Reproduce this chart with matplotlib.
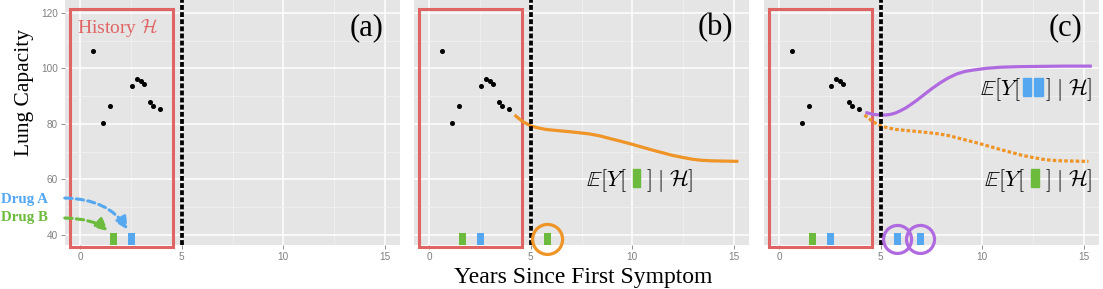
import matplotlib
matplotlib.use('Agg')
import matplotlib.pyplot as plt
from matplotlib.patches import Rectangle, Circle, FancyArrowPatch
from matplotlib.transforms import IdentityTransform

W, H = 1103, 289
plt.rcParams['mathtext.fontset'] = 'cm'

# ---------------- data ----------------
obs_t = [0.62, 1.12, 1.48, 2.54, 2.80, 2.98, 3.16, 3.43, 3.56, 3.95]
obs_y = [106.3, 80.3, 86.6, 93.5, 96.2, 95.6, 94.5, 87.8, 86.6, 85.4]
drugB_t = [1.64]          # green, past
drugA_t = [2.52]          # blue, past
hist_start, hist_end = -0.48, 4.55
now_t = 5.0
futB_t = [5.83]
futA_t = [5.83, 6.96]
curveB_t = [4.20, 4.61, 5.02, 5.40, 5.75, 6.30, 6.90, 7.40, 7.88, 8.40, 8.86, 9.40,
            9.92, 10.50, 10.98, 11.50, 11.96, 12.50, 12.94, 13.40, 13.92, 14.60, 15.23]
curveB_y = [83.2, 80.8, 79.2, 78.5, 78.0, 77.6, 77.2, 76.8, 76.4, 75.7, 74.8, 73.8,
            72.8, 71.6, 70.6, 69.6, 68.7, 67.9, 67.3, 66.9, 66.7, 66.6, 66.5]
curveA_t = [4.32, 4.65, 4.98, 5.22, 5.47, 5.72, 5.96, 6.20, 6.45, 6.78, 7.11, 7.52,
            7.93, 8.34, 8.75, 9.16, 9.57, 10.20, 10.89, 11.80, 12.86, 14.00, 15.32]
curveA_y = [84.0, 83.4, 83.2, 83.2, 83.4, 83.9, 84.7, 85.6, 86.8, 88.5, 90.4, 92.7,
            94.8, 96.6, 98.0, 98.9, 99.4, 100.0, 100.4, 100.6, 100.7, 100.8, 100.8]
xticks = [0, 5, 10, 15]
yticks = [40, 60, 80, 100, 120]
panel_labels = ['(a)', '(b)', '(c)']

BLUE = '#55A8F0'
GREEN = '#6CBB3C'
RED = '#E06464'
ORANGE = '#EF9426'
PURPLE = '#B06AE0'
BG = '#E5E5E5'
SERIF = 'Liberation Serif'

fig = plt.figure(figsize=(W / 100, H / 100), dpi=100)
lefts = [65, 414, 764]
XL = (-0.75, 15.75)
YL = (36.4, 124.6)
axes = []
for i, L in enumerate(lefts):
    ax = fig.add_axes([L / W, (H - 245) / H, 335 / W, 245 / H])
    ax.set_facecolor(BG)
    ax.set_xlim(*XL)
    ax.set_ylim(*YL)
    ax.set_xticks(xticks)
    ax.set_xticks([2.5, 7.5, 12.5], minor=True)
    ax.set_yticks(yticks)
    ax.set_yticks([50, 70, 90, 110], minor=True)
    ax.grid(True, which='major', color='white', lw=1.1)
    ax.grid(True, which='minor', color='#F2F2F2', lw=0.5)
    ax.set_axisbelow(True)
    for s in ax.spines.values():
        s.set_visible(False)
    ax.tick_params(which='minor', length=0)
    ax.tick_params(which='major', length=3, width=0.6, color='#7F7F7F',
                   labelcolor='#7F7F7F', labelsize=7.2, pad=2)
    for lab in ax.get_xticklabels() + ax.get_yticklabels():
        lab.set_family('Liberation Sans')
    if i > 0:
        ax.tick_params(axis='y', left=False, labelleft=False)
    axes.append(ax)

    # history box
    ax.add_patch(Rectangle((hist_start, 35.7), hist_end - hist_start, 121.3 - 35.7,
                           fill=False, ec=RED, lw=2.2, clip_on=False, zorder=3))
    # observations
    ax.plot(obs_t, obs_y, 'o', color='black', ms=2.6, zorder=4)
    # past drugs
    ax.bar(drugB_t, 5.6, bottom=35.0, width=0.33, color=GREEN, zorder=4)
    ax.bar(drugA_t, 5.6, bottom=35.0, width=0.33, color=BLUE, zorder=4)
    # now line
    ax.axvline(now_t, color='black', lw=2.7, ls=(0, (1.3, 0.6)), zorder=5)
    ax.text(14.95, 114.7, panel_labels[i], ha='right', va='center',
            fontsize=22, family=SERIF)

fig.canvas.draw()

def circle_at(ax, x, y, color, r=14):
    px, py = ax.transData.transform((x, y))
    fig.add_artist(Circle((px, py), r, fill=False, ec=color, lw=2.3,
                          transform=IdentityTransform(), zorder=6))

# panel (b)
ax = axes[1]
ax.plot(curveB_t, curveB_y, color=ORANGE, lw=2.3, zorder=4, solid_capstyle='butt')
ax.bar(futB_t, 5.6, bottom=35.0, width=0.33, color=GREEN, zorder=4)
for t in futB_t:
    circle_at(ax, t, 38.4, ORANGE, r=15)

# panel (c)
ax = axes[2]
ax.plot(curveB_t, curveB_y, color=ORANGE, lw=2.3, ls=(0, (1.1, 0.7)), zorder=4)
ax.plot(curveA_t, curveA_y, color=PURPLE, lw=2.3, zorder=4)
ax.bar(futA_t, 5.6, bottom=35.0, width=0.33, color=BLUE, zorder=4)
for t in futA_t:
    circle_at(ax, t, 38.4, PURPLE, r=14)

# compound labels
def expr(x, y_base, colors, align='left', fs=16, pad=6, rw=7.5, rgap=3, rh=18):
    r = fig.canvas.get_renderer()
    t1 = fig.text(0, 0, r'$\mathbb{E}[Y[$', fontsize=fs, va='baseline', ha='left',
                  transform=IdentityTransform(), color='black')
    t2 = fig.text(0, 0, r'$]\;|\;\mathcal{H}]$', fontsize=fs, va='baseline', ha='left',
                  transform=IdentityTransform(), color='black')
    w1 = t1.get_window_extent(r).width
    w2 = t2.get_window_extent(r).width
    n = len(colors)
    mid = 2 * pad + n * rw + (n - 1) * rgap
    total = w1 + mid + w2
    x0 = x if align == 'left' else x - total
    yb = H - y_base
    t1.set_position((x0, yb))
    for k, c in enumerate(colors):
        fig.add_artist(Rectangle((x0 + w1 + pad + k * (rw + rgap), yb - 1), rw, rh,
                                 color=c, transform=IdentityTransform()))
    t2.set_position((x0 + w1 + mid, yb))

expr(586, 186, [GREEN], 'left', pad=6)
expr(1092, 95, [BLUE, BLUE], 'right', pad=2, rw=8.5, rgap=3)
expr(1092, 186, [GREEN], 'right', pad=6)

# text annotations in pixel space
def ptext(x, y, s, **kw):
    fig.text(x / W, 1 - y / H, s, **kw)

ptext(77, 33, r'History $\mathcal{H}$', color=RED, fontsize=14, family=SERIF,
      ha='left', va='baseline')
ptext(25, 93, 'Lung Capacity', rotation=90, fontsize=15.5, family=SERIF,
      ha='center', va='center')
ptext(583, 277, 'Years Since First Symptom', fontsize=17, family=SERIF,
      ha='center', va='center')
ptext(1, 199, 'Drug A', color=BLUE, fontsize=10.8, family=SERIF, weight='bold',
      ha='left', va='center')
ptext(1, 218, 'Drug B', color=GREEN, fontsize=10.8, family=SERIF, weight='bold',
      ha='left', va='center')

for (x0, y0, x1, y1, c, angB) in [(62, 198, 129, 232, BLUE, 120),
                                  (62, 218, 110, 233, GREEN, 135)]:
    fig.add_artist(FancyArrowPatch((x0, H - y0), (x1, H - y1), transform=IdentityTransform(),
                                   connectionstyle=f'angle3,angleA=0,angleB={angB}',
                                   arrowstyle='-|>', mutation_scale=18, color=c, lw=2.2,
                                   linestyle=(0, (2.4, 1.4)), zorder=7))

fig.savefig('out.png', dpi=100)
